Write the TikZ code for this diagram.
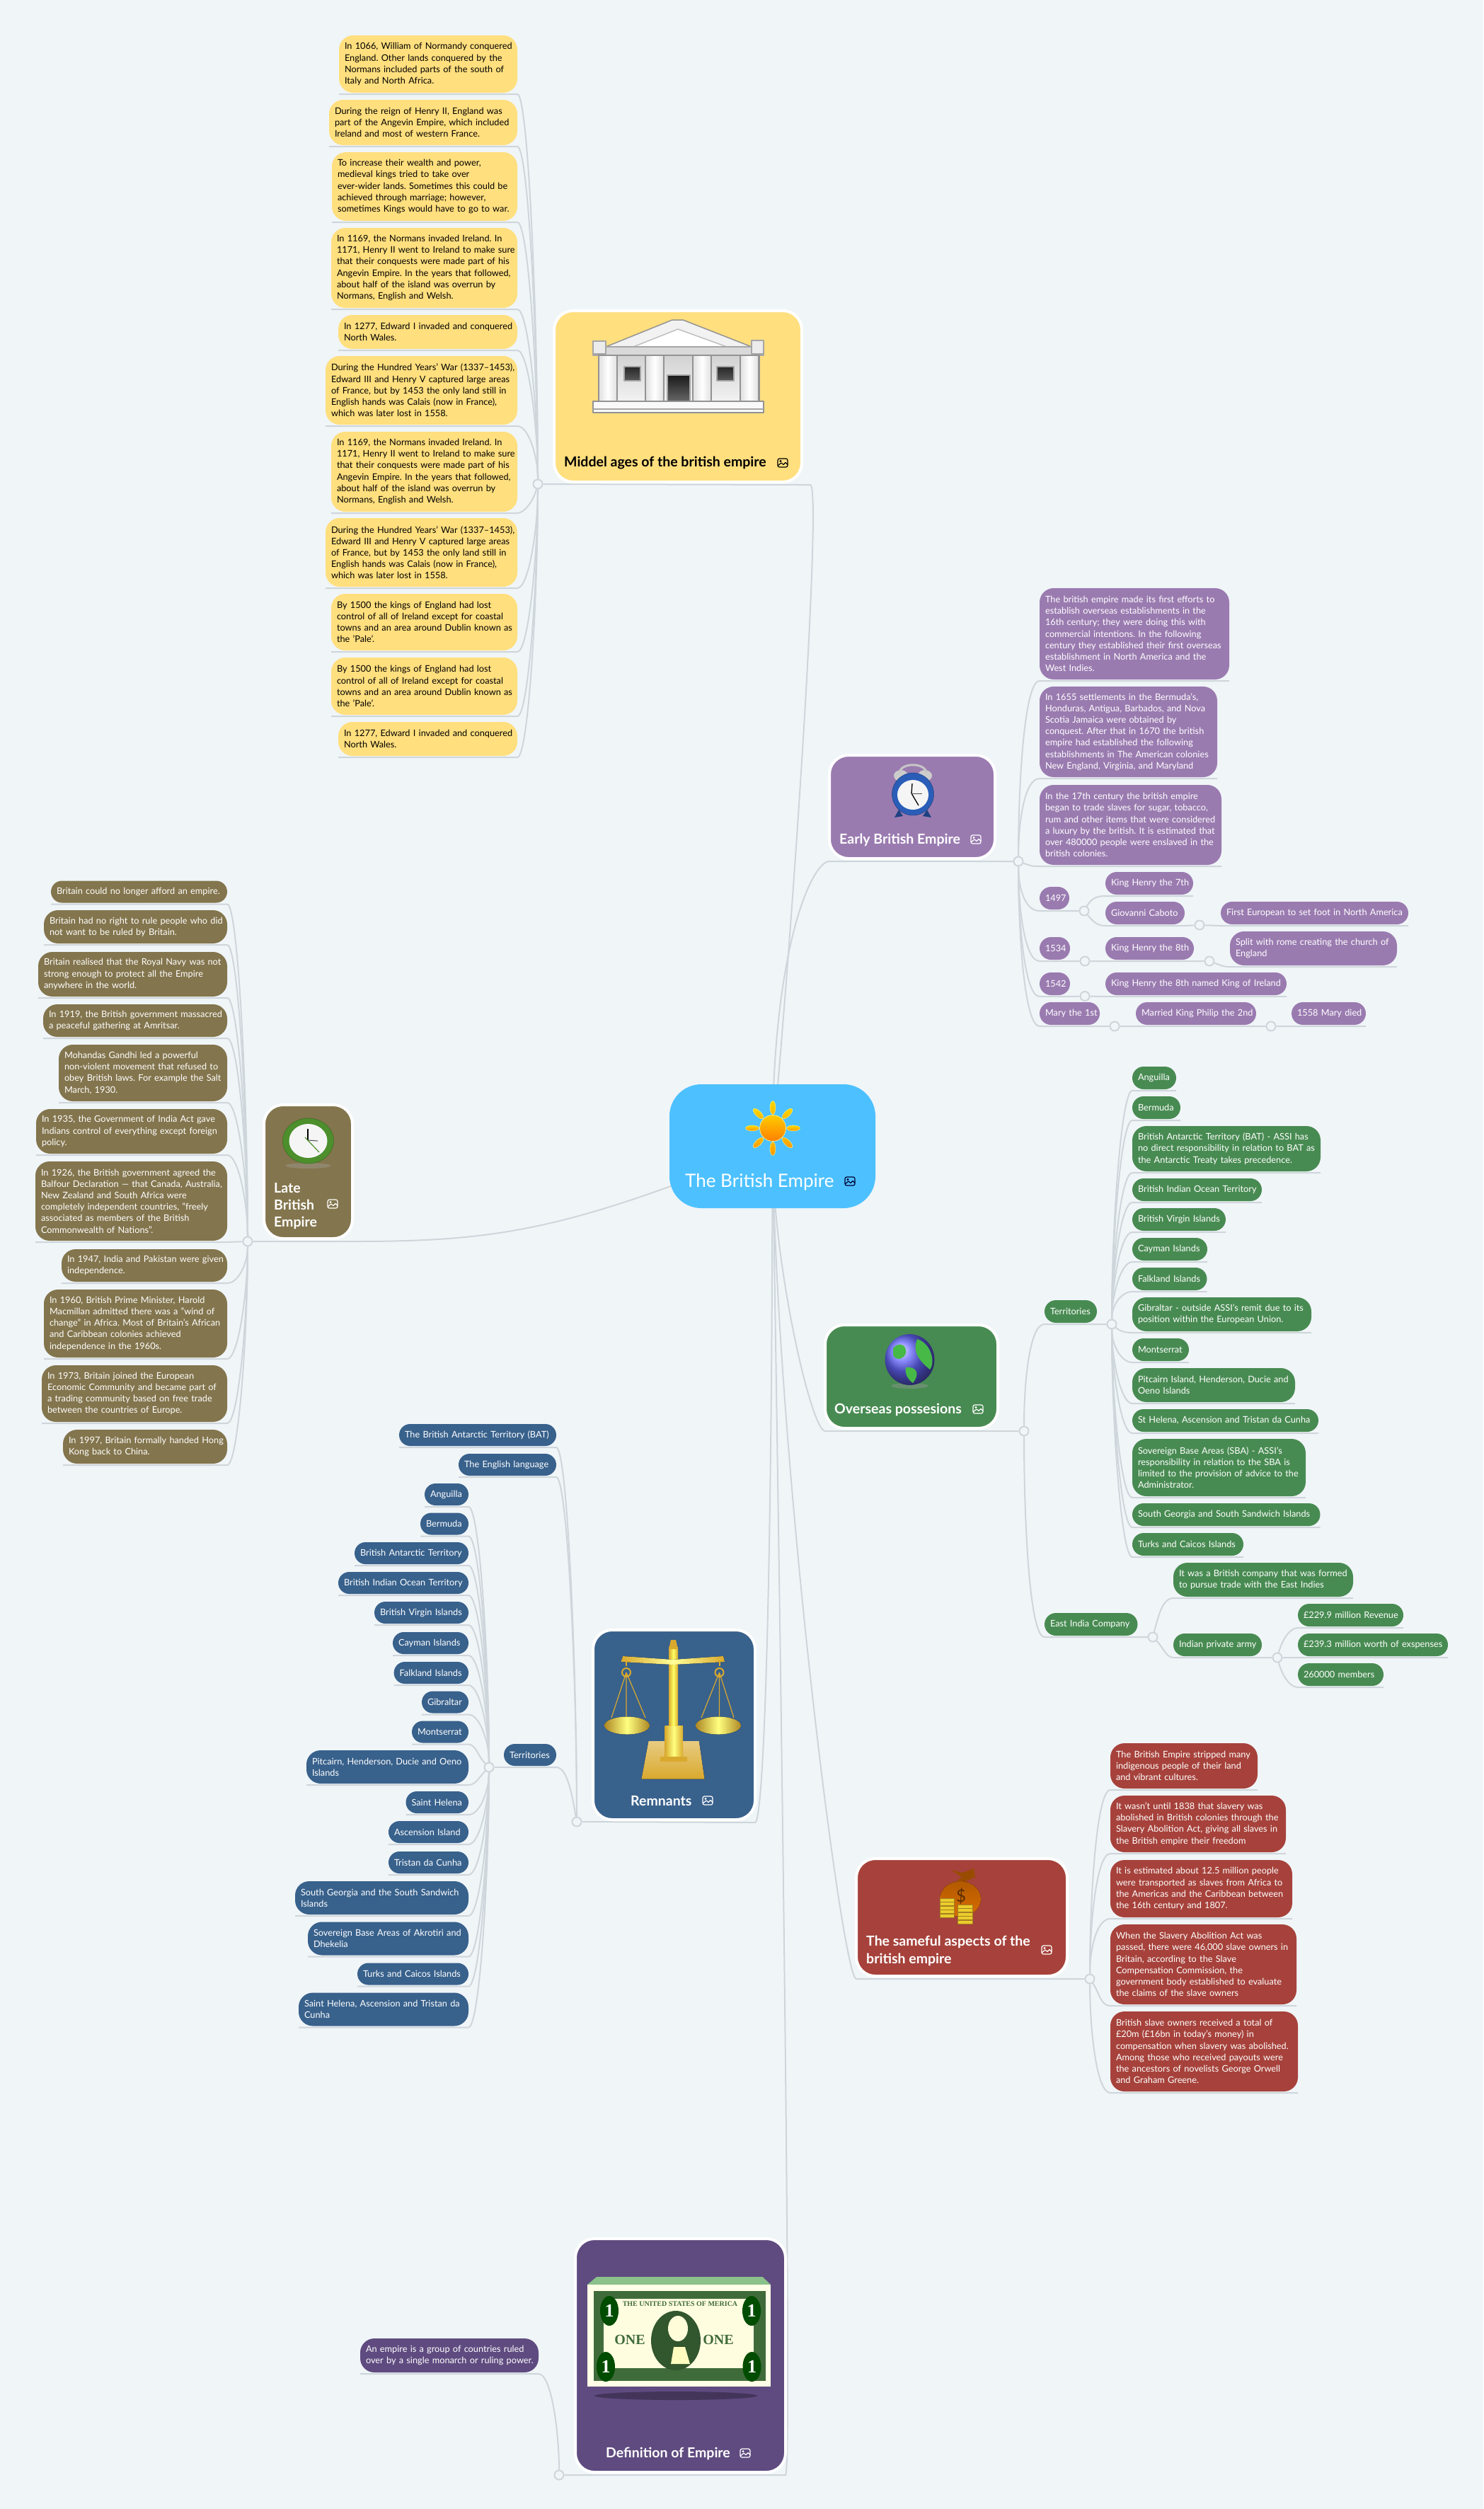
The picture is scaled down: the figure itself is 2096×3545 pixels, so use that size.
\documentclass[tikz,border=0pt]{standalone}
\usepackage{fontspec}
\setmainfont{Lato}
\newfontfamily\billfont{Liberation Serif}
\usetikzlibrary{backgrounds,positioning,shapes.geometric}
\definecolor{pagecol}{HTML}{F0F5F8}
\definecolor{linkcol}{HTML}{CFD6DB}
\definecolor{rootcol}{HTML}{4DC1FF}
\definecolor{midcol}{HTML}{FFDF7E}
\definecolor{earlycol}{HTML}{9A7BB0}
\definecolor{latecol}{HTML}{83754D}
\definecolor{overcol}{HTML}{488B52}
\definecolor{remcol}{HTML}{38618C}
\definecolor{shamecol}{HTML}{A6423B}
\definecolor{defcol}{HTML}{5F4B80}
\definecolor{goldcol}{HTML}{D9A92E}
\definecolor{billcol}{HTML}{3F6B3A}
\definecolor{clockblue}{HTML}{2A5DB8}
\definecolor{clockgreen}{HTML}{4C8F2C}
\newcommand{\boxfont}{\fontsize{12.75bp}{16.2bp}\selectfont\frenchspacing}
\newcommand{\headfont}{\fontsize{19.5bp}{24bp}\selectfont\bfseries}
\tikzset{
  box/.style 2 args={text width={(#1-16)*1bp},minimum height={#2*1bp},
    rounded corners={min(#2/2,20)*1bp},inner xsep=8bp,inner ysep=0pt,
    outer xsep=0pt,outer ysep=2bp,align=left,font=\boxfont,
    execute at begin node={\rightskip=0pt minus 80pt\relax}},
  pill/.style={box={#1}{32}},
  midbox/.style={fill=midcol,text=black},
  earlybox/.style={fill=earlycol,text=white},
  latebox/.style={fill=latecol,text=white},
  overbox/.style={fill=overcol,text=white},
  rembox/.style={fill=remcol,text=white},
  shamebox/.style={fill=shamecol,text=white},
  defbox/.style={fill=defcol,text=white},
  mainbox/.style 2 args={draw=white,line width=4bp,minimum width=#1bp,minimum height=#2bp,
    rounded corners=27bp,inner sep=0pt,outer xsep=0pt,outer ysep=4bp},
  headtext/.style={anchor=base west,inner sep=0pt,font=\headfont,text=white,align=left},
  junc/.style={circle,draw=linkcol,fill=pagecol,line width=2bp,minimum size=13bp,inner sep=0pt},
  link/.style={draw=linkcol,line width=2bp},
  imgmark/.pic={
    \draw[line width=1.2bp,rounded corners=2.5bp,pic actions] (-7,-6) rectangle (7,6);
    \fill[pic actions] (-3,-2.5) circle (1.6);
    \draw[line width=1.2bp,pic actions] (-7,4) -- (-2,0) -- (1,2.5) -- (4,-0.5) -- (7,2.5);
  },
}
\begin{document}
\begin{tikzpicture}[x=1bp,y=-1bp,line join=round]
\useasboundingbox (0,0) rectangle (2096,3545);
\begin{scope}[on background layer]
\fill[pagecol] (0,0) rectangle (2096,3545);
\end{scope}
% root
\node[fill=rootcol,minimum width=291bp,minimum height=175bp,rounded corners=45bp,inner sep=0pt] (root) at (1091.5,1619.5) {};
\node[anchor=base west,inner sep=0pt,font=\fontsize{26bp}{30bp}\selectfont,text=white] (roottext) at (968,1677) {The British Empire};
\pic[black!80!blue] at (1201,1669) {imgmark};
\foreach \a in {0,45,...,315}
  \fill[rotate around={\a:(1092,1594)},top color=yellow!70!orange,bottom color=orange!80!yellow,draw=white!60!yellow,line width=.5bp] (1092,1594)+(0,-29) ellipse (4 and 9.5);
\fill[top color=yellow!60!orange,bottom color=orange,draw=yellow!40!white,line width=.7bp] (1092,1594) circle (18.5);
% middle ages
\node[mainbox={350}{242},fill=midcol] (mid) at (958,560) {};
\node[headtext,text=black] (midtext) at (797,659) {Middel ages of the british empire};
\pic[black] at (1106,654) {imgmark};
\begin{scope}[draw=gray!85,line width=1.5bp]
\fill[white!90!gray,draw=gray!85] (856,490) -- (950,452) -- (965,452) -- (1062,490) -- cycle;
\fill[white,draw=gray!50] (895,490) -- (958,465) -- (1027,490) -- cycle;
\fill[gray!30,draw=gray!70] (838,490) rectangle (1079,502);
\fill[gray!15,draw=gray!70] (838,482) rectangle (856,500);
\fill[gray!15,draw=gray!70] (1062,481) rectangle (1079,500);
\fill[top color=gray!35,bottom color=gray!10,draw=gray!85] (846,502) rectangle (1073,567);
\foreach \cx in {846,912,979,1046}
  \fill[left color=gray!25,right color=gray!25,middle color=white,draw=gray!85] (\cx,502) rectangle +(26,65);
\fill[top color=black!85,bottom color=black!65,draw=gray!70] (882,518) rectangle (905,538);
\fill[top color=black!85,bottom color=black!65,draw=gray!70] (1013,518) rectangle (1037,538);
\fill[top color=black!90,bottom color=black!60,draw=gray!70] (943,530) rectangle (975,567);
\fill[white!95!gray,draw=gray!85] (838,567) rectangle (1079,583);
\draw[gray!70] (838,578) -- (1079,578);
\end{scope}
% yellow notes
\node[midbox,box={252}{81},anchor=east] (m1) at (731,90.5) {In 1066, William of Normandy conquered\\England. Other lands conquered by the\\Normans included parts of the south of\\Italy and North Africa.};
\node[midbox,box={266}{64},anchor=east] (m2) at (731,173) {During the reign of Henry II, England was\\part of the Angevin Empire, which included\\Ireland and most of western France.};
\node[midbox,box={262}{97},anchor=east] (m3) at (731,263.5) {To increase their wealth and power,\\medieval kings tried to take over\\ever-wider lands. Sometimes this could be\\achieved through marriage; however,\\sometimes Kings would have to go to war.};
\node[midbox,box={263}{113},anchor=east] (m4) at (731,378.5) {In 1169, the Normans invaded Ireland. In\\1171, Henry II went to Ireland to make sure\\that their conquests were made part of his\\Angevin Empire. In the years that followed,\\about half of the island was overrun by\\Normans, English and Welsh.};
\node[midbox,box={253}{48},anchor=east] (m5) at (731,469) {In 1277, Edward I invaded and conquered\\North Wales.};
\node[midbox,box={271}{97},anchor=east] (m6) at (731,551.5) {During the Hundred Years' War (1337–1453),\\Edward III and Henry V captured large areas\\of France, but by 1453 the only land still in\\English hands was Calais (now in France),\\which was later lost in 1558.};
\node[midbox,box={263}{113},anchor=east] (m7) at (731,666.5) {In 1169, the Normans invaded Ireland. In\\1171, Henry II went to Ireland to make sure\\that their conquests were made part of his\\Angevin Empire. In the years that followed,\\about half of the island was overrun by\\Normans, English and Welsh.};
\node[midbox,box={271}{97},anchor=east] (m8) at (731,780.5) {During the Hundred Years' War (1337–1453),\\Edward III and Henry V captured large areas\\of France, but by 1453 the only land still in\\English hands was Calais (now in France),\\which was later lost in 1558.};
\node[midbox,box={263}{80},anchor=east] (m9) at (731,879) {By 1500 the kings of England had lost\\control of all of Ireland except for coastal\\towns and an area around Dublin known as\\the 'Pale'.};
\node[midbox,box={263}{81},anchor=east] (m10) at (731,969.5) {By 1500 the kings of England had lost\\control of all of Ireland except for coastal\\towns and an area around Dublin known as\\the 'Pale'.};
\node[midbox,box={253}{48},anchor=east] (m11) at (731,1044) {In 1277, Edward I invaded and conquered\\North Wales.};
\node[junc] (jmid) at (760,684) {};
% early
\node[mainbox={234}{146},fill=earlycol] (early) at (1289,1140) {};
\node[headtext] (earlytext) at (1186,1192) {Early British Empire};
\pic[white] at (1379,1186) {imgmark};
\fill[gray!40] (1273,1096) ellipse (10 and 8);
\fill[gray!40] (1307,1096) ellipse (10 and 8);
\draw[gray!45,line width=3bp] (1271,1092) .. controls (1272,1077) and (1308,1077) .. (1309,1092);
\fill[clockblue!70!black] (1270,1144) -- (1264,1155) -- (1276,1153) -- cycle;
\fill[clockblue!70!black] (1310,1144) -- (1316,1155) -- (1304,1153) -- cycle;
\fill[clockblue,draw=clockblue!60!black] (1290,1122) ellipse (29.5 and 30);
\fill[white!92!gray] (1290,1123) ellipse (22 and 21);
\draw[black,line width=1.3bp] (1288,1121) -- (1289,1107);
\draw[black,line width=1.3bp] (1288,1121) -- (1298,1138);
\draw[black!70,line width=1bp] (1288,1121) -- (1303,1121);
\node[earlybox,box={268}{129},anchor=west] (e1) at (1469,895.5) {The british empire made its first efforts to\\establish overseas establishments in the\\16th century; they were doing this with\\commercial intentions. In the following\\century they established their first overseas\\establishment in North America and the\\West Indies.};
\node[earlybox,box={251}{128},anchor=west] (e2) at (1469,1034) {In 1655 settlements in the Bermuda's,\\Honduras, Antigua, Barbados, and Nova\\Scotia Jamaica were obtained by\\conquest. After that in 1670 the british\\empire had established the following\\establishments in The American colonies\\New England, Virginia, and Maryland};
\node[earlybox,box={257}{113},anchor=west] (e3) at (1469,1165.5) {In the 17th century the british empire\\began to trade slaves for sugar, tobacco,\\rum and other items that were considered\\a luxury by the british. It is estimated that\\over 480000 people were enslaved in the\\british colonies.};
\node[earlybox,pill=42,anchor=west] (y97) at (1469,1269) {1497};
\node[earlybox,pill=124,anchor=west] (henry7) at (1562,1248) {King Henry the 7th};
\node[earlybox,pill=112,anchor=west] (caboto) at (1562,1290) {Giovanni Caboto};
\node[earlybox,pill=265,anchor=west] (firsteu) at (1725,1290) {First European to set foot in North America};
\node[earlybox,pill=43,anchor=west] (y34) at (1469,1340) {1534};
\node[earlybox,pill=125,anchor=west] (henry8) at (1562,1340) {King Henry the 8th};
\node[earlybox,box={236}{48},anchor=west] (split) at (1738,1340) {Split with rome creating the church of\\England};
\node[earlybox,pill=43,anchor=west] (y42) at (1469,1390) {1542};
\node[earlybox,pill=256,anchor=west] (named) at (1562,1390) {King Henry the 8th named King of Ireland};
\node[earlybox,pill=85,anchor=west] (mary) at (1469,1432) {Mary the 1st};
\node[earlybox,pill=170,anchor=west] (philip) at (1605,1432) {Married King Philip the 2nd};
\node[earlybox,pill=105,anchor=west] (died) at (1825,1432) {1558 Mary died};
\node[junc] (jearly) at (1439,1217) {};
\node[junc] (j97) at (1532,1287) {};
\node[junc] (jcab) at (1695,1307) {};
\node[junc] (j34) at (1533,1358) {};
\node[junc] (jh8) at (1709,1358) {};
\node[junc] (j42) at (1533,1407.5) {};
\node[junc] (jmary) at (1575,1450) {};
\node[junc] (jphil) at (1796,1450) {};
% late
\node[mainbox={125}{189},fill=latecol] (late) at (435.5,1655.5) {};
\node[headtext] (latetext) at (387,1733) {Late\\[0pt]British\\[0pt]Empire};
\pic[white] at (470,1701) {imgmark};
\fill[black!35,opacity=.35] (435.5,1647) ellipse (32 and 4);
\fill[clockgreen,draw=clockgreen!70!black] (435.5,1612) ellipse (36 and 32);
\fill[white!92!gray] (435.5,1612) ellipse (27 and 24);
\draw[black,line width=1.2bp] (435,1611) -- (435,1595);
\draw[black!70,line width=1bp] (435,1611) -- (449,1612);
\draw[clockgreen,line width=1.2bp] (431,1607) -- (451,1628);
\node[latebox,box={249}{31},anchor=east] (l1) at (321,1260) {Britain could no longer afford an empire.};
\node[latebox,box={259}{47},anchor=east] (l2) at (321,1309.5) {Britain had no right to rule people who did\\not want to be ruled by Britain.};
\node[latebox,box={267}{63},anchor=east] (l3) at (321,1376.5) {Britain realised that the Royal Navy was not\\strong enough to protect all the Empire\\anywhere in the world.};
\node[latebox,box={260}{46},anchor=east] (l4) at (321,1442) {In 1919, the British government massacred\\a peaceful gathering at Amritsar.};
\node[latebox,box={238}{80},anchor=east] (l5) at (321,1516) {Mohandas Gandhi led a powerful\\non-violent movement that refused to\\obey British laws. For example the Salt\\March, 1930.};
\node[latebox,box={270}{63},anchor=east] (l6) at (321,1598.5) {In 1935, the Government of India Act gave\\Indians control of everything except foreign\\policy.};
\node[latebox,box={271}{112},anchor=east] (l7) at (321,1697) {In 1926, the British government agreed the\\Balfour Declaration — that Canada, Australia,\\New Zealand and South Africa were\\completely independent countries, "freely\\associated as members of the British\\Commonwealth of Nations".};
\node[latebox,box={234}{46},anchor=east] (l8) at (321,1788) {In 1947, India and Pakistan were given\\independence.};
\node[latebox,box={259}{96},anchor=east] (l9) at (321,1870) {In 1960, British Prime Minister, Harold\\Macmillan admitted there was a "wind of\\change" in Africa. Most of Britain's African\\and Caribbean colonies achieved\\independence in the 1960s.};
\node[latebox,box={262}{80},anchor=east] (l10) at (321,1969) {In 1973, Britain joined the European\\Economic Community and became part of\\a trading community based on free trade\\between the countries of Europe.};
\node[latebox,box={232}{48},anchor=east] (l11) at (321,2044) {In 1997, Britain formally handed Hong\\Kong back to China.};
\node[junc] (jlate) at (350,1754) {};
% overseas
\node[mainbox={244}{146},fill=overcol] (over) at (1288,1945) {};
\node[headtext] (overtext) at (1179,1997) {Overseas possesions};
\pic[white] at (1382,1991) {imgmark};
\fill[black!40,opacity=.4] (1285.5,1958) ellipse (26 and 4);
\shade[ball color=blue!60!white] (1285.5,1921) ellipse (35 and 36);
\fill[green!45!gray] (1262,1905) .. controls (1270,1895) and (1282,1900) .. (1280,1912) .. controls (1276,1922) and (1266,1922) .. (1262,1915) -- cycle;
\fill[green!45!gray] (1296,1892) .. controls (1316,1898) and (1322,1925) .. (1314,1935) .. controls (1302,1925) and (1288,1912) .. (1296,1892) -- cycle;
\fill[green!45!gray] (1280,1932) .. controls (1296,1930) and (1300,1942) .. (1290,1954) .. controls (1284,1950) and (1278,1942) .. (1280,1932) -- cycle;
\node[overbox,pill=74,anchor=west] (terr) at (1476,1853) {Territories};
\node[overbox,pill=62,anchor=west] (t1) at (1600,1523) {Anguilla};
\node[overbox,pill=68,anchor=west] (t2) at (1600,1565) {Bermuda};
\node[overbox,box={266}{64},anchor=west] (t3) at (1600,1623) {British Antarctic Territory (BAT) - ASSI has\\no direct responsibility in relation to BAT as\\the Antarctic Treaty takes precedence.};
\node[overbox,pill=183,anchor=west] (t4) at (1600,1681) {British Indian Ocean Territory};
\node[overbox,pill=132,anchor=west] (t5) at (1600,1723) {British Virgin Islands};
\node[overbox,pill=106,anchor=west] (t6) at (1600,1765) {Cayman Islands};
\node[overbox,pill=105.5,anchor=west] (t7) at (1600,1807) {Falkland Islands};
\node[overbox,box={253}{48},anchor=west] (t8) at (1600,1857) {Gibraltar - outside ASSI's remit due to its\\position within the European Union.};
\node[overbox,pill=80,anchor=west] (t9) at (1600,1907) {Montserrat};
\node[overbox,box={230}{48},anchor=west] (t10) at (1600,1957) {Pitcairn Island, Henderson, Ducie and\\Oeno Islands};
\node[overbox,pill=263,anchor=west] (t11) at (1600,2007) {St Helena, Ascension and Tristan da Cunha};
\node[overbox,box={245}{81},anchor=west] (t12) at (1600,2073.5) {Sovereign Base Areas (SBA) - ASSI's\\responsibility in relation to the SBA is\\limited to the provision of advice to the\\Administrator.};
\node[overbox,pill=265.5,anchor=west] (t13) at (1600,2140) {South Georgia and South Sandwich Islands};
\node[overbox,pill=157,anchor=west] (t14) at (1600,2182) {Turks and Caicos Islands};
\node[overbox,pill=131.5,anchor=west] (east) at (1476,2295) {East India Company};
\node[overbox,box={254}{48},anchor=west] (itwas) at (1658,2232) {It was a British company that was formed\\to pursue trade with the East Indies};
\node[overbox,pill=125,anchor=west] (army) at (1658,2324) {Indian private army};
\node[overbox,pill=149,anchor=west] (rev) at (1834,2282) {£229.9 million Revenue};
\node[overbox,pill=212,anchor=west] (exp) at (1834,2324) {£239.3 million worth of exspenses};
\node[overbox,pill=121,anchor=west] (memb) at (1834,2366) {260000 members};
\node[junc] (jover) at (1447,2022) {};
\node[junc] (jterr) at (1571,1871) {};
\node[junc] (jeast) at (1629,2313) {};
\node[junc] (jarmy) at (1805,2342) {};
% remnants
\node[mainbox={229}{268},fill=remcol] (rem) at (952.5,2437) {};
\node[headtext] (remtext) at (891,2551) {Remnants};
\pic[white] at (1000,2544) {imgmark};
\fill[top color=goldcol!60!white,bottom color=goldcol] (916.5,2460) -- (987.7,2460) -- (995.5,2513.5) -- (906.5,2513.5) -- cycle;
\fill[left color=goldcol,right color=goldcol,middle color=yellow!50!white] (939.5,2438) rectangle (965,2487);
\fill[goldcol] (933,2482) rectangle (971,2489);
\fill[left color=goldcol,right color=goldcol,middle color=yellow!60!white] (945,2327) rectangle (958,2438);
\fill[goldcol] (945,2330) -- (948,2317) -- (955,2317) -- (958,2330) -- cycle;
\fill[left color=goldcol,right color=goldcol,middle color=yellow!40!white] (880,2340) -- (951,2345) -- (1022,2340) -- (1024,2348) -- (951,2352) -- (878,2348) -- cycle;
\foreach \sx/\sa/\sb in {885/864/912,1016.5/991/1037} {
  \draw[goldcol,line width=1.2bp] (\sx,2363) -- (\sa,2427) (\sx,2363) -- (\sx,2427) (\sx,2363) -- (\sb,2427);
  \draw[goldcol,line width=2bp] (\sx,2363) circle (6);
  \draw[goldcol,line width=2bp] (\sx,2354) -- (\sx,2346);
}
\fill[left color=goldcol!80!black,right color=goldcol!80!black,middle color=yellow!50!white] (886,2438) ellipse (32 and 12.5);
\fill[left color=goldcol!80!black,right color=goldcol!80!black,middle color=yellow!50!white] (1015,2438) ellipse (32 and 12.5);
\node[rembox,box={222}{31},anchor=east] (rb) at (786,2027.5) {The British Antarctic Territory (BAT)};
\node[rembox,box={138}{31},anchor=east] (rl) at (786,2069.5) {The English language};
\node[rembox,box={74}{31},anchor=east] (rt) at (786,2479.5) {Territories};
\node[rembox,box={62}{31},anchor=east] (r1) at (662,2111.5) {Anguilla};
\node[rembox,box={68}{31},anchor=east] (r2) at (662,2153) {Bermuda};
\node[rembox,box={161}{31},anchor=east] (r3) at (662,2194.5) {British Antarctic Territory};
\node[rembox,box={184}{31},anchor=east] (r4) at (662,2236.5) {British Indian Ocean Territory};
\node[rembox,box={133}{31},anchor=east] (r5) at (662,2278.5) {British Virgin Islands};
\node[rembox,box={107}{31},anchor=east] (r6) at (662,2321.5) {Cayman Islands};
\node[rembox,box={105.4}{31},anchor=east] (r7) at (662,2363.5) {Falkland Islands};
\node[rembox,box={66}{31},anchor=east] (r8) at (662,2405) {Gibraltar};
\node[rembox,box={80}{31},anchor=east] (r9) at (662,2447) {Montserrat};
\node[rembox,box={229}{47},anchor=east] (r10) at (662,2496.5) {Pitcairn, Henderson, Ducie and Oeno\\Islands};
\node[rembox,box={88.5}{31},anchor=east] (r11) at (662,2546.5) {Saint Helena};
\node[rembox,box={113}{31},anchor=east] (r12) at (662,2588.5) {Ascension Island};
\node[rembox,box={113}{31},anchor=east] (r13) at (662,2631.5) {Tristan da Cunha};
\node[rembox,box={245}{47},anchor=east] (r14) at (662,2681.5) {South Georgia and the South Sandwich\\Islands};
\node[rembox,box={227}{47},anchor=east] (r15) at (662,2739) {Sovereign Base Areas of Akrotiri and\\Dhekelia};
\node[rembox,box={157}{31},anchor=east] (r16) at (662,2789) {Turks and Caicos Islands};
\node[rembox,box={240}{47},anchor=east] (r17) at (662,2839) {Saint Helena, Ascension and Tristan da\\Cunha};
\node[junc] (jrem) at (815,2574) {};
\node[junc] (jrt) at (691,2497) {};
% shameful
\node[mainbox={298}{166},fill=shamecol] (shame) at (1359,2709) {};
\node[headtext] (shametext) at (1224,2774) {The sameful aspects of the\\[0.5pt]british empire};
\pic[white] at (1479,2755) {imgmark};
\fill[top color=orange!70!black,bottom color=orange!85!black] (1357,2683) ellipse (29 and 25);
\fill[orange!60!black] (1359,2652) -- (1344,2642) -- (1360,2646) -- (1376,2640) -- (1378,2652) -- (1365,2658) -- (1352,2658) -- cycle;
\node[anchor=center,inner sep=0pt,text=orange!35!black,font=\fontsize{24bp}{24bp}\selectfont] (bagsign) at (1358,2679) {\$};
\foreach \cx/\cy/\cw in {1338/2682/10,1364/2691/10.5} {
  \foreach \k in {0,1,...,4}
    \fill[yellow!45!goldcol,draw=goldcol!75!black,line width=.6bp] (\cx-\cw,\cy+\k*5.5) rectangle (\cx+\cw,\cy+\k*5.5+5);
}
\node[shamebox,box={208}{64},anchor=west] (s1) at (1569,2495) {The British Empire stripped many\\indigenous people of their land\\and vibrant cultures.};
\node[shamebox,box={248}{80},anchor=west] (s2) at (1569,2577) {It wasn't until 1838 that slavery was\\abolished in British colonies through the\\Slavery Abolition Act, giving all slaves in\\the British empire their freedom};
\node[shamebox,box={257}{81},anchor=west] (s3) at (1569,2668.5) {It is estimated about 12.5 million people\\were transported as slaves from Africa to\\the Americas and the Caribbean between\\the 16th century and 1807.};
\node[shamebox,box={263}{113},anchor=west] (s4) at (1569,2775.5) {When the Slavery Abolition Act was\\passed, there were 46,000 slave owners in\\Britain, according to the Slave\\Compensation Commission, the\\government body established to evaluate\\the claims of the slave owners};
\node[shamebox,box={265}{113},anchor=west] (s5) at (1569,2898.5) {British slave owners received a total of\\£20m (£16bn in today's money) in\\compensation when slavery was abolished.\\Among those who received payouts were\\the ancestors of novelists George Orwell\\and Graham Greene.};
\node[junc] (jshame) at (1540,2796) {};
% definition
\node[mainbox={297}{330},fill=defcol] (def) at (961.5,3328) {};
\node[headtext] (deftext) at (856,3472) {Definition of Empire};
\pic[white] at (1053,3466) {imgmark};
\fill[black!30!defcol] (955,3385) ellipse (115 and 6);
\fill[green!30!gray!70!white] (830,3228) -- (843,3217) -- (1077.6,3217) -- (1089,3228) -- cycle;
\fill[white!90!yellow] (830,3228) rectangle (1089,3372);
\fill[billcol] (838.6,3237) rectangle (1081.5,3364);
\fill[white!88!yellow] (853,3248) rectangle (1065,3346);
\fill[billcol!80!black] (955,3307) ellipse (35 and 42);
\fill[white!85!yellow] (958,3290) ellipse (14 and 18);
\fill[white!75!yellow] (948,3340) -- (975,3340) -- (968,3316) -- (952,3316) -- cycle;
\foreach \bx/\by in {861/3265,1062/3265,856/3344,1062.5/3344}
  \fill[black!70!green] (\bx,\by) ellipse (13 and 21);
\node[inner sep=0pt,text=white,font=\billfont\bfseries\fontsize{26bp}{26bp}\selectfont] (one1) at (861,3265) {1};
\node[inner sep=0pt,text=white,font=\billfont\bfseries\fontsize{26bp}{26bp}\selectfont] (one2) at (1062,3265) {1};
\node[inner sep=0pt,text=white,font=\billfont\bfseries\fontsize{26bp}{26bp}\selectfont] (one3) at (856,3344) {1};
\node[inner sep=0pt,text=white,font=\billfont\bfseries\fontsize{26bp}{26bp}\selectfont] (one4) at (1062.5,3344) {1};
\node[inner sep=0pt,text=billcol,font=\billfont\bfseries\fontsize{20bp}{20bp}\selectfont] (onel) at (890,3306) {ONE};
\node[inner sep=0pt,text=billcol,font=\billfont\bfseries\fontsize{20bp}{20bp}\selectfont] (oner) at (1015,3306) {ONE};
\node[inner sep=0pt,text=billcol,font=\billfont\bfseries\fontsize{10bp}{10bp}\selectfont] (billtop) at (961,3255) {THE UNITED STATES OF MERICA};
\node[defbox,box={252}{48},anchor=east] (d1) at (761,3328) {An empire is a group of countries ruled\\over by a single monarch or ruling power.};
\node[junc] (jdef) at (790,3497) {};
% links
\begin{scope}[on background layer]
\draw[link] (jmid) -- (mid.south east) -- +(12,0) .. controls +(16,0) and (1125,1250) .. (root.center);
\draw[link] (early.south east) -- (jearly);
\draw[link] (jearly) -- (early.south west) .. controls +(-25,0) and (1091,1340) .. (root.center);
\draw[link] (late.south west) -- (jlate);
\draw[link] (late.south west) -- (late.south east) .. controls +(200,0) and (800,1740) .. (root.center);
\draw[link] (jover) -- (over.south west) .. controls +(-20,0) and (1091,1780) .. (root.center);
\draw[link] (jrem) -- (rem.south east) .. controls +(12,0) and (1091,2250) .. (root.center);
\draw[link] (jshame) -- (shame.south west) .. controls +(-20,0) and (1098,2065) .. (root.center);
\draw[link] (jdef) -- (def.south east) .. controls +(10,0) and (1103,2300) .. (root.center);
\foreach \n in {1,...,6}
  \draw[link] (m\n.south west) -- (m\n.south east) to[out=0,in=90,out distance=16bp] (jmid);
\draw[link] (m7.south west) -- (m7.south east) to[out=0,in=255,out distance=10bp] (jmid);
\foreach \n in {8,...,11}
  \draw[link] (m\n.south west) -- (m\n.south east) to[out=0,in=270,out distance=16bp] (jmid);
\foreach \n in {1,...,6}
  \draw[link] (l\n.south west) -- (l\n.south east) to[out=0,in=90,out distance=16bp] (jlate);
\draw[link] (l7.south west) -- (l7.south east) -- (jlate);
\foreach \n in {8,...,11}
  \draw[link] (l\n.south west) -- (l\n.south east) to[out=0,in=270,out distance=16bp] (jlate);
\foreach \n in {e1,e2}
  \draw[link] (jearly) to[out=90,in=180,in distance=22bp] (\n.south west) -- (\n.south east);
\draw[link] (jearly) to[out=-20,in=180,in distance=12bp] (e3.south west) -- (e3.south east);
\foreach \n in {y97,y34,y42,mary}
  \draw[link] (jearly) to[out=270,in=180,in distance=22bp] (\n.south west) -- (\n.south east);
\draw[link] (y97.south east) -- (j97);
\draw[link] (j97) to[out=60,in=180,in distance=14bp] (henry7.south west) -- (henry7.south east);
\draw[link] (j97) to[out=-50,in=180,in distance=12bp] (caboto.south west) -- (caboto.south east) -- (jcab);
\draw[link] (jcab) -- (firsteu.south west) -- (firsteu.south east);
\draw[link] (y34.south east) -- (j34);
\draw[link] (j34) -- (henry8.south west) -- (henry8.south east) -- (jh8);
\draw[link] (jh8) to[out=-20,in=180,in distance=10bp] (split.south west) -- (split.south east);
\draw[link] (y42.south east) -- (j42);
\draw[link] (j42) -- (named.south west) -- (named.south east);
\draw[link] (mary.south east) -- (jmary);
\draw[link] (jmary) -- (philip.south west) -- (philip.south east) -- (jphil);
\draw[link] (jphil) -- (died.south west) -- (died.south east);
\draw[link] (jover) to[out=90,in=180,in distance=22bp] (terr.south west) -- (terr.south east) -- (jterr);
\draw[link] (jover) to[out=270,in=180,in distance=22bp] (east.south west) -- (east.south east) -- (jeast);
\foreach \n in {1,...,7}
  \draw[link] (jterr) to[out=90,in=180,in distance=16bp] (t\n.south west) -- (t\n.south east);
\draw[link] (jterr) to[out=-40,in=180,in distance=8bp] (t8.south west) -- (t8.south east);
\foreach \n in {9,...,14}
  \draw[link] (jterr) to[out=270,in=180,in distance=16bp] (t\n.south west) -- (t\n.south east);
\draw[link] (jeast) to[out=75,in=180,in distance=16bp] (itwas.south west) -- (itwas.south east);
\draw[link] (jeast) to[out=-45,in=180,in distance=10bp] (army.south west) -- (army.south east) -- (jarmy);
\draw[link] (jarmy) to[out=75,in=180,in distance=12bp] (rev.south west) -- (rev.south east);
\draw[link] (jarmy) -- (exp.south west) -- (exp.south east);
\draw[link] (jarmy) to[out=-75,in=180,in distance=12bp] (memb.south west) -- (memb.south east);
\draw[link] (rb.south west) -- (rb.south east) to[out=0,in=90,out distance=16bp] (jrem);
\draw[link] (rl.south west) -- (rl.south east) to[out=0,in=90,out distance=16bp] (jrem);
\draw[link] (rt.south west) -- (rt.south east) to[out=0,in=100,out distance=16bp] (jrem);
\draw[link] (rt.south west) -- (jrt);
\foreach \n in {1,...,8}
  \draw[link] (r\n.south west) -- (r\n.south east) to[out=0,in=90,out distance=16bp] (jrt);
\draw[link] (r9.south west) -- (r9.south east) to[out=0,in=135,out distance=10bp] (jrt);
\draw[link] (r10.south west) -- (r10.south east) to[out=0,in=225,out distance=10bp] (jrt);
\foreach \n in {11,...,17}
  \draw[link] (r\n.south west) -- (r\n.south east) to[out=0,in=270,out distance=16bp] (jrt);
\foreach \n in {s1,s2,s3}
  \draw[link] (jshame) to[out=90,in=180,in distance=20bp] (\n.south west) -- (\n.south east);
\draw[link] (jshame) to[out=-55,in=180,in distance=14bp] (s4.south west) -- (s4.south east);
\draw[link] (jshame) to[out=270,in=180,in distance=20bp] (s5.south west) -- (s5.south east);
\draw[link] (d1.south west) -- (d1.south east) to[out=0,in=90,out distance=18bp] (jdef);
\end{scope}
\end{tikzpicture}
\end{document}
